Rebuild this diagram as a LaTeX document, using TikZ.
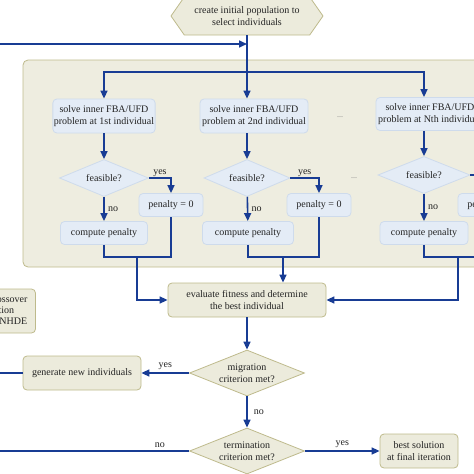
\documentclass[tikz,border=0pt]{standalone}
\usepackage{fontspec}
\setmainfont{Liberation Serif}
\usetikzlibrary{arrows.meta, shapes.geometric, shapes.symbols}

\definecolor{olivefill}{RGB}{236,235,220}
\definecolor{olivedraw}{RGB}{190,186,140}
\definecolor{panelfill}{RGB}{238,237,224}
\definecolor{bluefill}{RGB}{228,236,246}
\definecolor{bluedraw}{RGB}{206,219,236}
\definecolor{flowblue}{RGB}{24,60,148}
\definecolor{textgray}{RGB}{35,35,35}

\tikzset{
  every node/.style={font=\fontsize{10}{12}\selectfont, text=textgray},
  olivebox/.style={rectangle, rounded corners=4pt, draw=olivedraw, fill=olivefill, line width=0.8pt, align=center, inner sep=1pt},
  bluebox/.style={rectangle, rounded corners=4pt, draw=bluedraw, fill=bluefill, line width=0.8pt, align=center, inner sep=1pt},
  bluediamond/.style={diamond, aspect=2.4, inner sep=0pt, draw=bluedraw, fill=bluefill, line width=0.8pt},
  olivediamond/.style={diamond, aspect=2.5, inner sep=0pt, draw=olivedraw, fill=olivefill, line width=0.8pt, align=center},
  flow/.style={draw=flowblue, line width=1.6pt},
  flowarrow/.style={flow, -{Triangle[length=8pt, width=7pt]}},
  dots/.style={font=\fontsize{8}{9}\selectfont, text=gray},
}

\begin{document}
\begin{tikzpicture}[x=1pt, y=-1pt]
  \clip (0,0) rectangle (474,474);

  % panel round the individuals
  \draw[olivedraw, fill=panelfill, line width=0.8pt, rounded corners=5pt] (23,60) rectangle (520,267);

  \node[signal, signal to=east and west, signal pointer angle=110, draw=olivedraw, fill=olivefill, line width=0.8pt,
        minimum width=152pt, minimum height=38pt, align=center, inner sep=0pt] (init) at (247,16)
        {create initial population to\\select individuals};

  \node[bluebox, minimum width=102pt, minimum height=34pt] (solve1) at (104,116) {solve inner FBA/UFD\\problem at 1st individual};
  \node[bluebox, minimum width=108pt, minimum height=34pt] (solve2) at (254,116) {solve inner FBA/UFD\\problem at 2nd individual};
  \node[bluebox, minimum width=108pt, minimum height=33pt] (solve3) at (430,114) {solve inner FBA/UFD\\problem at Nth individual};
  \node[dots] (dotsa) at (340,117) {...};
  \node[dots] (dotsb) at (354,178) {...};

  \node[bluediamond, minimum width=89pt, minimum height=37pt] (feas1) at (104,178) {feasible?};
  \node[bluediamond, minimum width=86pt, minimum height=37pt] (feas2) at (247,178) {feasible?};
  \node[bluediamond, minimum width=92pt, minimum height=37pt] (feas3) at (424,175) {feasible?};

  \node[bluebox, minimum width=64pt, minimum height=23pt] (zero1) at (171,205) {penalty = 0};
  \node[bluebox, minimum width=64pt, minimum height=23pt] (zero2) at (319,205) {penalty = 0};
  \node[bluebox, minimum width=64pt, minimum height=23pt] (zero3) at (490,205) {penalty = 0};

  \node[bluebox, minimum width=87pt, minimum height=23pt] (comp1) at (104,233) {compute penalty};
  \node[bluebox, minimum width=91pt, minimum height=23pt] (comp2) at (248,233) {compute penalty};
  \node[bluebox, minimum width=88pt, minimum height=23pt] (comp3) at (424,233) {compute penalty};

  \node[olivebox, minimum width=158pt, minimum height=34pt] (eval) at (247,300) {evaluate fitness and determine\\the best individual};
  \node[olivebox, minimum width=95pt, minimum height=44pt, font=\fontsize{10}{11}\selectfont] (ops) at (-12,311) {mutation, crossover\\and selection\\operators of NHDE};
  \node[olivediamond, minimum width=115pt, minimum height=46pt] (migr) at (247,373) {migration\\criterion met?};
  \node[olivebox, minimum width=118pt, minimum height=34pt] (gen) at (82,373) {generate new individuals};
  \node[olivediamond, minimum width=115pt, minimum height=46pt] (term) at (247,451) {termination\\criterion met?};
  \node[olivebox, minimum width=78pt, minimum height=34pt] (best) at (419,451) {best solution\\at final iteration};

  \coordinate (loopin) at (-5,44);
  \coordinate (split) at (247,72);
  \coordinate (m1) at (137,257);
  \coordinate (m2) at (283,257);
  \coordinate (m3) at (458,257);

  % feeding the individuals
  \draw[flowarrow] (loopin) -- (loopin -| init.south);
  \draw[flowarrow] (init.south) -- (init.south |- solve2.north);
  \draw[flowarrow] (split) -| (solve1.north);
  \draw[flowarrow] (split) -| (feas3.north |- solve3.north);

  \draw[flowarrow] (solve1) -- (feas1);
  \draw[flowarrow] (solve2.south -| feas2.north) -- (feas2.north);
  \draw[flowarrow] (solve3.south -| feas3.north) -- (feas3.north);

  \draw[flowarrow] (feas1.east) -| node[pos=0.25, above, inner sep=1pt] {yes} (zero1.north);
  \draw[flowarrow] (feas2.east) -| node[pos=0.25, above, inner sep=1pt] {yes} (zero2.north);
  \draw[flowarrow] (feas3.east) -| (zero3.north);
  \draw[flowarrow] (feas1) -- node[right] {no} (comp1);
  \draw[flowarrow] (feas2) -- node[right] {no} (comp2);
  \draw[flowarrow] (feas3) -- node[right] {no} (comp3);

  % merging into the evaluation
  \draw[flow] (comp1.south) |- (zero1.south |- m1) -- (zero1.south);
  \draw[flow] (comp2.south) |- (zero2.south |- m2) -- (zero2.south);
  \draw[flow] (comp3.south) |- (zero3.south |- m3) -- (zero3.south);
  \draw[flowarrow] (m1) |- (eval.west);
  \draw[flowarrow] (m2) -- (m2 |- eval.north);
  \draw[flowarrow] (m3) |- (eval.east);

  \draw[flowarrow] (eval) -- (migr);
  \draw[flowarrow] (migr) -- node[above, inner sep=3pt] {yes} (gen);
  \draw[flow] (gen.west) -- (gen.west -| loopin);
  \draw[flowarrow] (migr) -- node[right, inner sep=6pt] {no} (term);
  \draw[flowarrow] (term) -- node[above, inner sep=3pt] {yes} (best);
  \draw[flow] (term.west) -- node[above, pos=0.15, inner sep=3pt] {no} (term.west -| loopin);
\end{tikzpicture}
\end{document}
